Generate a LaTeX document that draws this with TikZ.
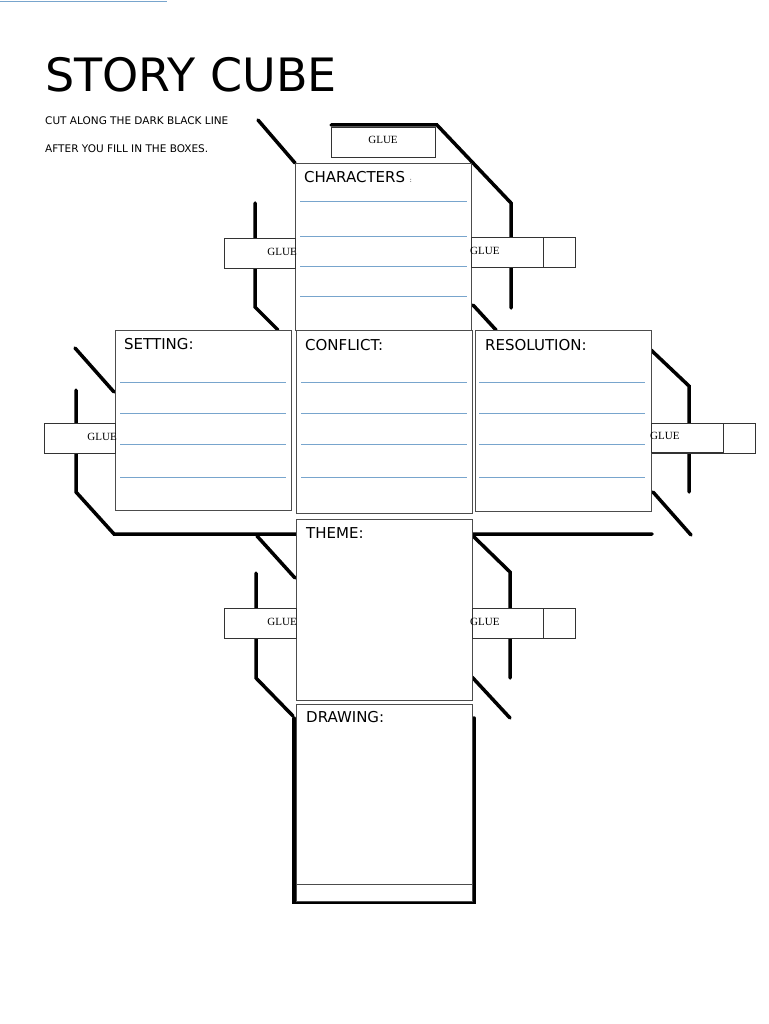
\documentclass[tikz,border=0pt]{standalone}
\usepackage{fontspec}
\setmainfont{DejaVu Sans}
\newfontfamily\gluefont{Liberation Serif}
\begin{document}
\begin{tikzpicture}[x=1pt,y=-1pt,
    cut/.style={line width=3.5pt, line cap=round},
    face/.style={draw=black!70, line width=0.8pt, fill=white},
    tab/.style={draw=black!80, line width=0.8pt, fill=white},
    rule/.style={draw={rgb,255:red,120;green,165;blue,205}, line width=0.8pt},
    gluetxt/.style={font=\gluefont\fontsize{11}{13}\selectfont, inner sep=0pt},
    facetxt/.style={font=\fontsize{15}{18}\selectfont, anchor=north west, inner sep=0pt}]
    \useasboundingbox (0,0) rectangle (768,1024);
    \draw[rule] (0,1) -- (167,1);

    % title
    \node[anchor=base west, inner sep=0pt, font=\fontsize{46}{50}\selectfont] (title) at (45,92) {STORY CUBE};
    \node[anchor=base west, inner sep=0pt, font=\fontsize{10.5}{12}\selectfont] (cut) at (45,125) {CUT ALONG THE DARK BLACK LINE};
    \node[anchor=base west, inner sep=0pt, font=\fontsize{10.5}{12}\selectfont] (fill) at (45,153) {AFTER YOU FILL IN THE BOXES.};

    % cut lines
    \draw[cut] (331,125) -- (437,125) -- (511,203) -- (511,308);
    \draw[cut] (258,120) -- (295,163);
    \draw[cut] (255,203) -- (255,307) -- (278,330);
    \draw[cut] (473,305) -- (496,330);
    \draw[cut] (75,348) -- (114,392);
    \draw[cut] (76,390) -- (76,492) -- (114,534) -- (652,534);
    \draw[cut] (651,350) -- (689,386) -- (689,492);
    \draw[cut] (653,492) -- (691,535);
    \draw[cut] (257,536) -- (295,578);
    \draw[cut] (472,535) -- (510,572) -- (510,678);
    \draw[cut] (256,573) -- (256,678) -- (293,716);
    \draw[cut] (472,677) -- (510,718);
    \draw[cut] (294,718) -- (294,902) -- (474,902) -- (474,718);

    % glue tabs
    \foreach \gx/\gy/\gname in {331/127/gtop, 224/238/gl1, 471/237/gr1, 44/423/gl2, 651/423/gr2, 224/608/gl3, 471/608/gr3}{
        \draw[tab] (\gx,\gy) rectangle ++(104,30);
    }
    \draw[tab] (331,127) rectangle (435,157);

    % faces
    \draw[face] (295,163) rectangle (471,330);
    \draw[face] (115,330) rectangle (291,510);
    \draw[face] (296,330) rectangle (472,513);
    \draw[face] (475,330) rectangle (651,511);
    \draw[face] (296,519) rectangle (472,700);
    \draw[face] (296,704) rectangle (472,884);
    \draw[face] (296,884) rectangle (472,901);

    % redraw tabs ends cut by faces
    \draw[tab] (224,238) rectangle (295,268);
    \draw[tab] (471,237) rectangle (543,267);
    \draw[tab] (44,423) rectangle (115,453);
    \draw[tab] (651,423) rectangle (723,452);
    \draw[tab] (224,608) rectangle (296,638);
    \draw[tab] (472,608) rectangle (543,638);

    \node[gluetxt] (glue1) at (383,140) {GLUE};
    \node[gluetxt, anchor=east] (glue2) at (297,252) {GLUE};
    \node[gluetxt, anchor=west] (glue3) at (470,251) {GLUE};
    \node[gluetxt, anchor=east] (glue4) at (117,437) {GLUE};
    \node[gluetxt, anchor=west] (glue5) at (650,436) {GLUE};
    \node[gluetxt, anchor=east] (glue6) at (297,622) {GLUE};
    \node[gluetxt, anchor=west] (glue7) at (470,622) {GLUE};

    % writing lines
    \foreach \lx in {120,301,479}{
        \foreach \ly in {382,413,444,477}{
            \draw[rule] (\lx,\ly) -- ++(166,0);
        }
    }
    \foreach \ly in {201,236,266,296}{
        \draw[rule] (300,\ly) -- (467,\ly);
    }

    % face labels
    \node[facetxt] (characters) at (304,171) {CHARACTERS \fontsize{6}{7}\selectfont:};
    \node[facetxt] (setting) at (124,338) {SETTING:};
    \node[facetxt] (conflict) at (305,339) {CONFLICT:};
    \node[facetxt] (resolution) at (485,339) {RESOLUTION:};
    \node[facetxt] (theme) at (306,527) {THEME:};
    \node[facetxt] (drawing) at (306,711) {DRAWING:};
\end{tikzpicture}
\end{document}
